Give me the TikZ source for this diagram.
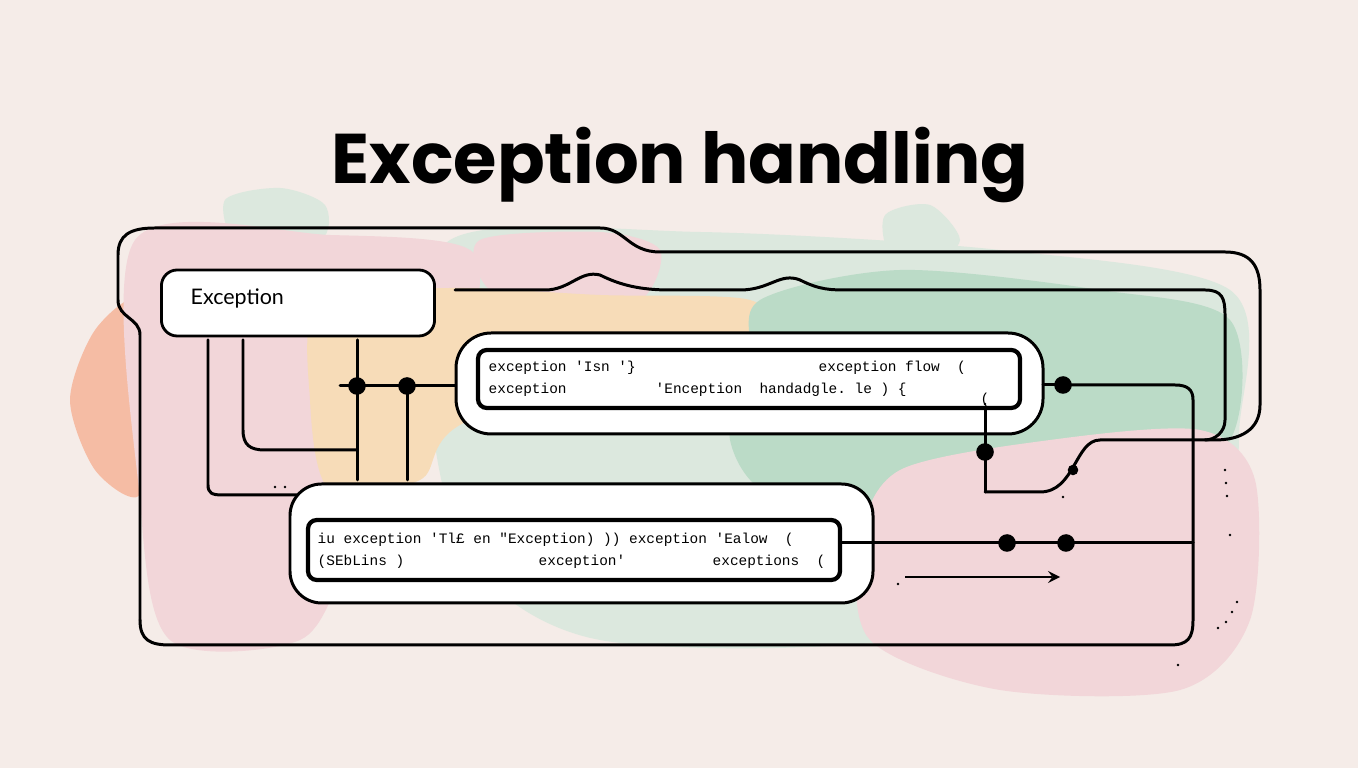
\documentclass[tikz,border=0pt]{standalone}
\usepackage{fontspec}
\setmainfont{Liberation Serif}
\newfontfamily\titlefont{Poppins}
\newfontfamily\labfont{Lato}
\newfontfamily\codefont{Liberation Mono}
\definecolor{bg}{HTML}{F5ECE8}
\definecolor{bpink}{HTML}{F2D6D9}
\definecolor{bgreen}{HTML}{DCE8DE}
\definecolor{bdgreen}{HTML}{BBDBC7}
\definecolor{bpeach}{HTML}{F7DCB8}
\definecolor{borange}{HTML}{F5BCA4}
\tikzset{
 ln/.style={line width=0.85pt, line cap=round, line join=round},
 outbox/.style={ln, fill=white, rounded corners=9pt},
 codebox/.style={line width=1.2pt, fill=white, rounded corners=2.5pt},
 dotn/.style={circle, fill=black, inner sep=0pt, minimum size=5pt},
 code/.style={font=\codefont\fontsize{4.1}{5}\selectfont, inner sep=0pt, anchor=west},
}
\begin{document}
\begin{tikzpicture}[x=0.01cm,y=-0.01cm]
\fill[bg] (0,0) rectangle (1358,768);
\useasboundingbox (0,0) rectangle (1358,768);
% blobs
\fill[borange] plot[smooth cycle] coordinates {(140,300) (95,330) (70,400) (95,470) (140,495) (150,400)};
\fill[bgreen] plot[smooth cycle] coordinates {(225,200) (280,188) (325,205) (320,240) (240,245)};
\fill[bgreen] plot[smooth cycle] coordinates {(885,215) (930,205) (960,240) (930,265) (890,255)};
\fill[bgreen] plot[smooth cycle] coordinates {(450,240) (700,232) (1000,250) (1230,290) (1240,420) (1200,560) (900,640) (600,640) (470,560) (430,400)};
\fill[bpink] plot[smooth cycle] coordinates {(135,240) (330,235) (470,250) (470,330) (420,460) (350,560) (300,640) (170,640) (140,500)};
\fill[bpink] plot[smooth cycle] coordinates {(480,240) (600,232) (660,250) (640,300) (560,300) (490,290)};
\fill[bpeach] plot[smooth cycle] coordinates {(320,300) (450,288) (600,295) (750,300) (750,340) (470,420) (420,480) (330,490) (310,400)};
\fill[bdgreen] plot[smooth cycle] coordinates {(760,300) (900,270) (1100,290) (1230,320) (1230,440) (1120,500) (960,520) (780,500) (730,440) (750,360)};
\fill[bpink] plot[smooth cycle] coordinates {(900,470) (1050,440) (1200,430) (1255,480) (1250,620) (1180,690) (1000,690) (870,640) (860,540)};
% outer frame
\draw[ln] (140,620) -- (140,335) .. controls (140,318) and (118,318) .. (118,300) -- (118,255)
  .. controls (118,235) and (130,228) .. (155,228) -- (600,228) .. controls (625,228) and (628,252) .. (660,252)
  -- (1225,252) .. controls (1250,252) and (1260,265) .. (1260,290) -- (1260,405)
  .. controls (1260,430) and (1240,440) .. (1215,440) -- (1100,440) .. controls (1075,440) and (1075,492) .. (1040,492) -- (985,492);
\draw[ln] (140,620) .. controls (140,640) and (150,645) .. (170,645) -- (1170,645)
  .. controls (1188,645) and (1193,638) .. (1193,620) -- (1193,400) .. controls (1193,390) and (1188,385) .. (1175,385) -- (1063,385);
% inner frames
\draw[ln] (208,340) -- (208,485) .. controls (208,493) and (212,495) .. (222,495) -- (300,495);
\draw[ln] (243,340) -- (243,430) .. controls (243,445) and (250,450) .. (265,450) -- (357,450);
\draw[ln] (455,290) -- (545,290) .. controls (570,290) and (580,270) .. (600,275) .. controls (620,285) and (640,290) .. (670,290)
  -- (740,290) .. controls (770,290) and (780,272) .. (800,280) .. controls (820,290) and (830,290) .. (850,290)
  -- (1205,290) .. controls (1222,290) and (1225,298) .. (1225,315) -- (1225,420) .. controls (1225,432) and (1215,440) .. (1205,440);
\draw[ln] (357,340) -- (357,480);
\draw[ln] (407,386) -- (407,480);
\draw[ln] (340,386) -- (460,386);
\node[dotn] (d1) at (357,386) {};
\node[dotn] (d2) at (407,386) {};
% exception box
\node[draw, line width=0.8pt, fill=white, rounded corners=4.5pt, minimum width=2.73cm, minimum height=0.66cm] (ex) at (298,303) {};
\node[font=\labfont\fontsize{6.1}{7}\selectfont, anchor=west, inner sep=0pt] (exl) at (190,298) {Exception};
% middle box
\draw[outbox, rounded corners=10pt] (456,333) rectangle (1043,434);
\draw[codebox] (478,350) rectangle (1020,408);
\node[code] (m1) at (488,368) {exception 'Isn '\}};
\node[code] (m2) at (818,368) {exception flow \ (};
\node[code] (m3) at (488,390) {exception};
\node[code] (m4) at (655,390) {'Enception \ handadgle.\ le ) \{};
\node[code] (m5) at (980,400) {(};
% right connectors
\draw[ln] (1043,385) -- (1063,385);
\node[dotn] (d3) at (1063,385) {};
\draw[ln] (985,410) -- (985,492);
\node[dotn] (d4) at (985,452) {};
\node[circle, fill=black, inner sep=0pt, minimum size=3pt] (d5) at (1073,470) {};
% bottom box
\draw[outbox] (290,484) rectangle (873,603);
\draw[codebox] (308,520) rectangle (840,580);
\node[code] (b1) at (317,540) {iu exception 'Tl£ en "Exception) )) exception 'Ealow \ (};
\node[code] (b2) at (317,562) {(SEbLins )};
\node[code] (b3) at (538,562) {exception'};
\node[code] (b4) at (712,562) {exceptions \ (};
\draw[ln] (840,543) -- (1193,543);
\node[dotn] (d6) at (1007,543) {};
\node[dotn] (d7) at (1066,543) {};
\coordinate (a1) at (905,577);
\coordinate (a2) at (1060,577);
\draw[line width=0.5pt, -stealth] (a1) -- (a2);
% small dots
\foreach \p in {(898,584),(275,487),(285,487),(1225,470),(1226,483),(1227,496),(1230,535),(1237,602),(1232,612),(1226,622),(1218,628),(1178,665),(1063,497),(985,404)}
  \fill \p circle (1.4);
% title
\node[font=\titlefont\fontsize{20}{24}\selectfont\bfseries] (title) at (680,165) {Exception handling};
\end{tikzpicture}
\end{document}
